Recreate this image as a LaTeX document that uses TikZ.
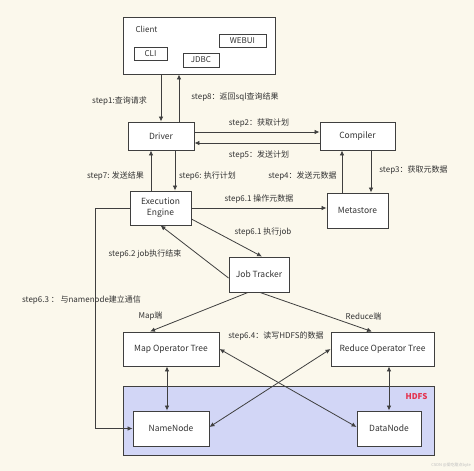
\documentclass[tikz,border=0pt]{standalone}
\usepackage{fontspec}
\setmainfont{Noto Sans CJK SC}
\usepackage{tikz}
\usetikzlibrary{arrows.meta}
\usepackage{xcolor}
\definecolor{paper}{HTML}{FBF8EC}
\definecolor{edge}{HTML}{3F3F3F}
\definecolor{hdfsfill}{HTML}{D2D6F6}
\definecolor{hdfsred}{HTML}{E5314D}

\begin{document}
\begin{tikzpicture}[x=1pt,y=-1pt,
  box/.style={draw=edge,line width=0.9pt,fill=white,inner sep=0pt,align=center,
    font=\fontsize{8.5}{11}\selectfont,text=black!80},
  tag/.style={font=\fontsize{8}{10}\selectfont,text=black!80,inner sep=0pt},
  arr/.style={draw=edge,line width=0.8pt,-{Latex[length=5pt,width=4.5pt]}},
  darr/.style={draw=edge,line width=0.8pt,{Latex[length=5pt,width=4.5pt]}-{Latex[length=5pt,width=4.5pt]}}
  ]
\fill[paper] (0,0) rectangle (474,471);                              % page
\useasboundingbox (0,0) rectangle (474,471);
\draw[draw=edge,line width=0.9pt,fill=hdfsfill] (123,386) rectangle (434,455);   % HDFS area
\node[font=\fontsize{8}{10}\selectfont\bfseries,text=hdfsred] (hdfs) at (416.5,397) {HDFS};
% boxes
\node[box,minimum width=152,minimum height=57] (client) at (199,45.5) {};
\node[anchor=west,font=\fontsize{8}{10}\selectfont,text=black!80] (clientname) at (132,29) {Client};
\node[box,minimum width=33,minimum height=13,font=\fontsize{8}{10}\selectfont] (cli) at (150.5,53.5) {CLI};
\node[box,minimum width=47,minimum height=13,font=\fontsize{8}{10}\selectfont] (webui) at (242.5,40.5) {WEBUI};
\node[box,minimum width=36,minimum height=14,font=\fontsize{8}{10}\selectfont] (jdbc) at (201,60) {JDBC};
\node[box,minimum width=66,minimum height=28] (driver) at (161,136) {Driver};
\node[box,minimum width=75,minimum height=28] (compiler) at (357.5,136) {Compiler};
\node[box,minimum width=61,minimum height=34] (exec) at (160.5,208) {Execution\\Engine};
\node[box,minimum width=61,minimum height=35] (meta) at (357.5,210.5) {Metastore};
\node[box,minimum width=60,minimum height=35] (jobtracker) at (259,274.5) {Job Tracker};
\node[box,minimum width=96,minimum height=34] (maptree) at (171,349) {Map Operator Tree};
\node[box,minimum width=103,minimum height=34] (reducetree) at (382.5,349) {Reduce Operator Tree};
\node[box,minimum width=76,minimum height=35] (namenode) at (171,428.5) {NameNode};
\node[box,minimum width=64,minimum height=35] (datanode) at (389,428.5) {DataNode};
\coordinate (bend) at (95,428.5);                                    % corner of step6.3 line
% connectors
\draw[arr] (client.south -| driver.north) -- (driver.north);
\draw[arr] ([xshift=18pt]driver.north) -- ([xshift=18pt]driver.north |- client.south);
\draw[arr] ([yshift=4pt]driver.east) -- ([yshift=4pt]driver.east -| compiler.west);
\draw[arr] ([yshift=-7pt]compiler.west) -- ([yshift=-7pt]compiler.west -| driver.east);
\draw[arr] ([xshift=-9.5pt]exec.north) -- ([xshift=-9.5pt]exec.north |- driver.south);
\draw[arr] ([xshift=14.5pt]exec.north |- driver.south) -- ([xshift=14.5pt]exec.north);
\draw[arr] ([xshift=13.5pt]meta.north |- compiler.south) -- ([xshift=13.5pt]meta.north);
\draw[arr] ([xshift=-15.5pt]meta.north) -- ([xshift=-15.5pt]meta.north |- compiler.south);
\draw[arr] (exec.east) -- (exec.east -| meta.west);
\draw[arr] ([yshift=-11pt]exec.east) -- ([xshift=3pt]jobtracker.north);
\draw[arr] ([yshift=-3.5pt]jobtracker.west) -- (exec.south);
\draw[arr] ([xshift=-11pt]jobtracker.south) -- ([xshift=-21pt]maptree.north);
\draw[arr] ([xshift=1pt]jobtracker.south) -- ([xshift=-10.5pt]reducetree.north);
\draw[darr] ([xshift=-4pt]maptree.south) -- ([xshift=-4pt]maptree.south |- namenode.north);
\draw[darr] (datanode.north |- reducetree.south) -- (datanode.north);
\draw[darr] (maptree.east) -- ([yshift=1.5pt]datanode.west);
\draw[darr] (reducetree.west) -- ([yshift=1.5pt]namenode.east);
\draw[arr] (exec.west) -| (bend) -- (namenode.west);
% labels
\node[tag] (lstepa) at (119.5,101) {step1:查询请求};
\node[tag] (lsteph) at (235,97) {step8：返回sql查询结果};
\node[tag] (lstepb) at (259,123) {step2：获取计划};
\node[tag] (lstepe) at (259,155) {step5：发送计划};
\node[tag] (lstepg) at (115.5,176) {step7: 发送结果};
\node[tag] (lstepf) at (207.5,176) {step6: 执行计划};
\node[tag] (lstepd) at (302.5,176) {step4：发送元数据};
\node[tag] (lstepc) at (413.5,170) {step3：获取元数据};
\node[tag] (lmeta) at (259,199) {step6.1 操作元数据};
\node[tag] (ljob) at (263,232) {step6.1 执行job};
\node[tag] (ljobend) at (145,254) {step6.2 job执行结束};
\node[tag] (lname) at (81.5,300) {step6.3 ： 与namenode建立通信};
\node[tag] (lmap) at (150.5,316) {Map端};
\node[tag] (lreduce) at (363.5,316) {Reduce端};
\node[tag] (lhdfs) at (276,336) {step6.4：读写HDFS的数据};
\node[font=\fontsize{4}{5}\selectfont,text=black!25,anchor=east,inner sep=0pt] (mark) at (471,465) {CSDN @爱吃甜点byte};
\end{tikzpicture}
\end{document}
